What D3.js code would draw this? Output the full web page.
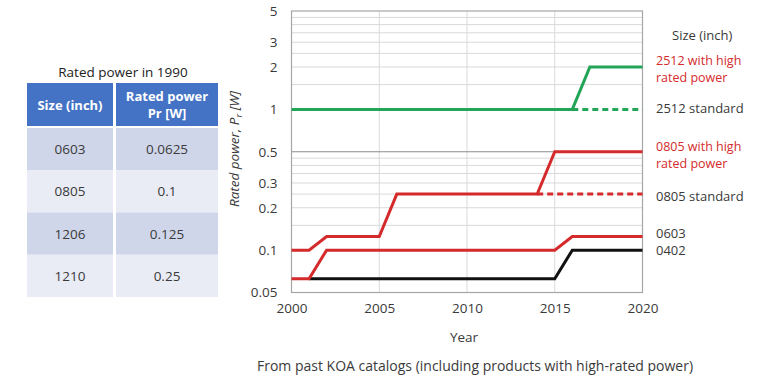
<!DOCTYPE html>
<html><head><meta charset="utf-8">
<script src="https://cdn.jsdelivr.net/npm/d3@7"></script>
<style>body{margin:0;background:#fff;} svg{display:block;font-family:"Open Sans",sans-serif;}</style>
</head><body><svg id="c" width="768" height="381"></svg>
<script>
// ---- data ----
const tableSizes = ["0603", "0805", "1206", "1210"];
const tableRatings = ["0.0625", "0.1", "0.125", "0.25"];
const yTicks = [0.05, 0.1, 0.2, 0.3, 0.5, 1, 2, 3, 5];
const yMinorGrid = [0.15, 0.2, 0.25, 0.3, 0.35, 0.4, 0.45, 1.5, 2, 2.5, 3, 3.5, 4, 4.5];
const yMajorGrid = [0.5];
const xTicks = [2000, 2005, 2010, 2015, 2020];
const s0402 = [[2001, 0.0625], [2015, 0.0625], [2016, 0.1], [2020, 0.1]];
const s0603 = [[2000, 0.0625], [2001, 0.0625], [2002, 0.1], [2015, 0.1], [2016, 0.125], [2020, 0.125]];
const s0805 = [[2000, 0.1], [2001, 0.1], [2002, 0.125], [2005, 0.125], [2006, 0.25], [2014, 0.25], [2015, 0.5], [2020, 0.5]];
const s0805std = [[2014, 0.25], [2020, 0.25]];
const s2512 = [[2000, 1], [2016, 1], [2017, 2], [2020, 2]];
const s2512std = [[2016, 1], [2020, 1]];

const svg = d3.select("#c");
const GREEN = "#23a557", RED = "#d42a2c", BLACK = "#111";
const TXT = "#3a3a3a";

// ---- table ----
svg.append("text").attr("x", 123).attr("y", 77).attr("text-anchor", "middle")
  .attr("font-size", 13.5).attr("fill", "#222").text("Rated power in 1990");
const c1 = [27, 113], c2 = [116, 218];
svg.append("rect").attr("x", c1[0]).attr("y", 83).attr("width", c1[1]-c1[0]).attr("height", 43).attr("fill", "#4472c4");
svg.append("rect").attr("x", c2[0]).attr("y", 83).attr("width", c2[1]-c2[0]).attr("height", 43).attr("fill", "#4472c4");
svg.append("text").attr("x", (c1[0]+c1[1])/2).attr("y", 110).attr("text-anchor", "middle")
  .attr("font-size", 13).attr("font-weight", "bold").attr("fill", "#fff").text("Size (inch)");
const hdr = svg.append("text").attr("text-anchor", "middle")
  .attr("font-size", 13).attr("font-weight", "bold").attr("fill", "#fff");
hdr.append("tspan").attr("x", (c2[0]+c2[1])/2).attr("y", 101).text("Rated power");
hdr.append("tspan").attr("x", (c2[0]+c2[1])/2).attr("y", 118).text("Pr [W]");
const rowY = d3.scaleBand().domain(tableSizes).range([128, 297]).padding(0);
tableSizes.forEach((s, i) => {
  const y = rowY(s), h = rowY.bandwidth();
  const fill = i % 2 === 0 ? "#cfd6ea" : "#e9ecf5";
  svg.append("rect").attr("x", c1[0]).attr("y", y).attr("width", c1[1]-c1[0]).attr("height", h).attr("fill", fill);
  svg.append("rect").attr("x", c2[0]).attr("y", y).attr("width", c2[1]-c2[0]).attr("height", h).attr("fill", fill);
  svg.append("text").attr("x", (c1[0]+c1[1])/2).attr("y", y + h/2 + 5).attr("text-anchor", "middle")
    .attr("font-size", 13.5).attr("fill", TXT).text(s);
  svg.append("text").attr("x", (c2[0]+c2[1])/2).attr("y", y + h/2 + 5).attr("text-anchor", "middle")
    .attr("font-size", 13.5).attr("fill", TXT).text(tableRatings[i]);
});

// ---- chart ----
const x = d3.scaleLinear().domain([2000, 2020]).range([291.5, 642.5]);
const y = d3.scaleLog().domain([0.05, 5]).range([292.5, 11]);

const g = svg.append("g");
g.selectAll(".vg").data(xTicks.slice(1, -1)).join("line")
  .attr("x1", d => x(d)).attr("x2", d => x(d)).attr("y1", y(5)).attr("y2", y(0.05))
  .attr("stroke", "#dadada").attr("stroke-width", 1);
g.selectAll(".hg").data(yMinorGrid).join("line")
  .attr("x1", x(2000)).attr("x2", x(2020)).attr("y1", d => y(d)).attr("y2", d => y(d))
  .attr("stroke", "#d9d9d9").attr("stroke-width", 1);
g.selectAll(".hm").data(yMajorGrid).join("line")
  .attr("x1", x(2000)).attr("x2", x(2020)).attr("y1", d => y(d)).attr("y2", d => y(d))
  .attr("stroke", "#8c8c8c").attr("stroke-width", 1);
g.append("rect").attr("x", x(2000)).attr("y", y(5)).attr("width", x(2020)-x(2000)).attr("height", y(0.05)-y(5))
  .attr("fill", "none").attr("stroke", "#a6a6a6").attr("stroke-width", 1.2);

// axes via d3
const yAxis = d3.axisLeft(y).tickValues(yTicks).tickFormat(d3.format("~g")).tickSize(0).tickPadding(14);
const ya = svg.append("g").attr("transform", `translate(${x(2000)},0)`).call(yAxis);
ya.select(".domain").remove();
ya.selectAll("text").attr("font-size", 13.5).attr("fill", TXT).attr("font-family", "Open Sans, sans-serif");

const xAxis = d3.axisBottom(x).tickValues(xTicks).tickFormat(d3.format("d")).tickSize(0).tickPadding(11);
const xa = svg.append("g").attr("transform", `translate(0,${y(0.05)})`).call(xAxis);
xa.select(".domain").remove();
xa.selectAll("text").attr("font-size", 13.5).attr("fill", TXT).attr("font-family", "Open Sans, sans-serif");

// axis titles
const yt = svg.append("text").attr("transform", "translate(239,149) rotate(-90)").attr("text-anchor", "middle")
  .attr("font-size", 13.5).attr("font-style", "italic").attr("fill", TXT);
yt.append("tspan").text("Rated power, P");
yt.append("tspan").attr("font-size", 9.5).attr("dy", 3).text("r");
yt.append("tspan").attr("dy", -3).text(" [W]");
svg.append("text").attr("x", 464).attr("y", 342).attr("text-anchor", "middle")
  .attr("font-size", 13.5).attr("fill", TXT).text("Year");
svg.append("text").attr("x", 475).attr("y", 371).attr("text-anchor", "middle")
  .attr("font-size", 14).attr("fill", TXT).text("From past KOA catalogs (including products with high-rated power)");

// lines
const line = d3.line().x(d => x(d[0])).y(d => y(d[1]));
function draw(data, color, dash) {
  svg.append("path").datum(data).attr("d", line).attr("fill", "none")
    .attr("stroke", color).attr("stroke-width", 3).attr("stroke-linejoin", "miter")
    .attr("stroke-dasharray", dash || null);
}
draw(s2512std, GREEN, "6,4");
draw(s2512, GREEN);
draw(s0805std, RED, "6,4");
draw(s0805, RED);
draw(s0402, BLACK);
draw(s0603, RED);

// right labels (multi-line labels as tspans)
const labels = [
  {t: ["Size (inch)"], y: 40, c: TXT, x: 672},
  {t: ["2512 with high", "rated power"], y: 65, c: RED, x: 656},
  {t: ["2512 standard"], y: 113, c: TXT, x: 656},
  {t: ["0805 with high", "rated power"], y: 151, c: RED, x: 656},
  {t: ["0805 standard"], y: 201, c: TXT, x: 656},
  {t: ["0603"], y: 238, c: TXT, x: 656},
  {t: ["0402"], y: 255, c: TXT, x: 656}
];
svg.selectAll(".rl").data(labels).join("text")
  .attr("font-size", d => d.t.length > 1 ? 12.5 : 13).attr("fill", d => d.c)
  .each(function(d) {
    d3.select(this).selectAll("tspan").data(d.t).join("tspan")
      .attr("x", d.x).attr("y", (s, i) => d.y + i * 17.2).text(s => s);
  });
</script></body></html>
